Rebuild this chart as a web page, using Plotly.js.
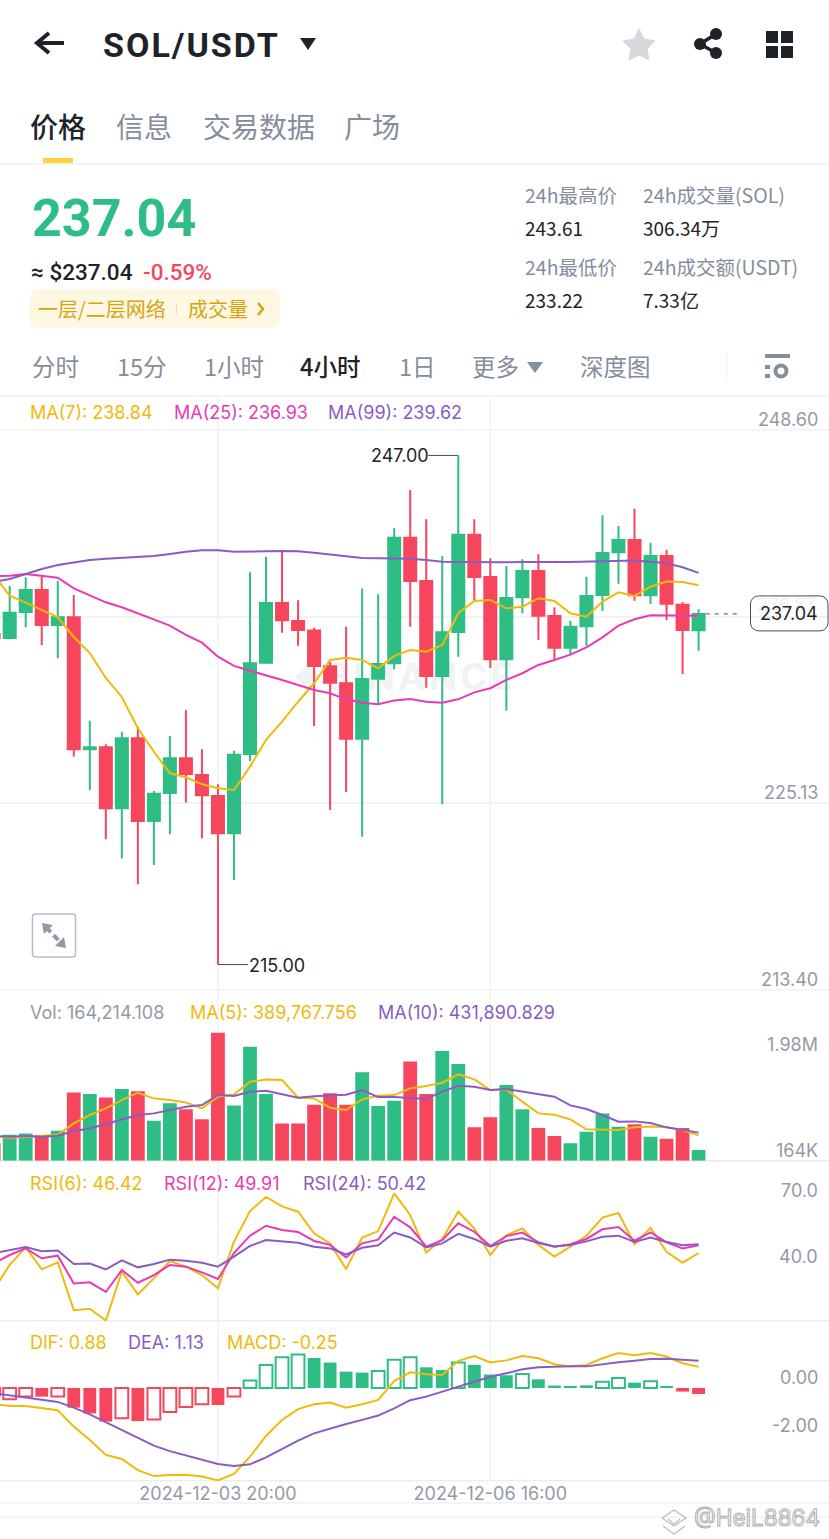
<!DOCTYPE html>
<html>
<head>
<meta charset="utf-8">
<script src="https://cdn.plot.ly/plotly-3.0.1.min.js"></script>
<style>
html,body{margin:0;padding:0;background:#fff;width:829px;height:1539px;overflow:hidden}
#wrap{position:relative;width:829px;height:1539px;overflow:hidden}
#chart{position:absolute;left:0;top:0;width:829px;height:1539px;z-index:2}
.t{position:absolute;white-space:nowrap;line-height:1;font-family:"Noto Sans CJK SC","Noto Sans",sans-serif;z-index:3;transform:translateY(-50%)}
.r{font-family:Roboto,"Noto Sans CJK SC",sans-serif}
.g{color:#848E9C}.d{color:#1E2329}
.sep{position:absolute;left:0;width:829px;height:2px;background:#F3F4F6;z-index:1}
svg.i{position:absolute;z-index:3;overflow:visible}
#wm{position:absolute;left:326px;top:656px;font:700 37px Inter,sans-serif;letter-spacing:3px;color:#F1F2F4;z-index:1;line-height:42px}
#wml{position:absolute;left:0;top:0;z-index:1}
#sig{position:absolute;left:694px;top:1504px;font:400 22.5px Inter,sans-serif;color:#fff;-webkit-text-stroke:1px #A9ADB3;z-index:4;line-height:28px}
</style>
</head>
<body>
<div id="wrap">
<div class="sep" style="top:163px"></div>
<div class="sep" style="top:395px"></div>
<svg id="wml" width="400" height="720"><path d="M308 664l13 13-13 13-13-13z" fill="#F1F2F4"/></svg>
<div id="wm">BINANCE</div>

<svg class="i" style="left:0;top:0" width="829" height="400">
  <path d="M64 43H38M49 33L37 43L49 53" fill="none" stroke="#1E2329" stroke-width="4"/>
  <path d="M300 38H316L308 50Z" fill="#1E2329"/>
  <path d="M639 29l5 10 11 2-8 8 2 11-10-5-10 5 2-11-8-8 11-2z" fill="#D5D8DC" stroke="#D5D8DC" stroke-linejoin="round"/>
  <g fill="#1E2329"><circle cx="716" cy="34" r="6"/><circle cx="716" cy="53" r="6"/><circle cx="700" cy="44" r="6"/></g>
  <path d="M716 34L700 44L716 53" fill="none" stroke="#1E2329" stroke-width="3.5"/>
  <g fill="#1E2329"><rect x="766" y="31" width="12" height="12"/><rect x="781" y="31" width="12" height="12"/><rect x="766" y="46" width="12" height="12"/><rect x="781" y="46" width="12" height="12"/></g>
  <rect x="43" y="158" width="30" height="5" fill="#FCD535"/>
  <rect x="30" y="289" width="250" height="39" rx="8" fill="#FEF8E3"/>
  <rect x="176" y="303" width="1" height="11" fill="#EADFB8"/>
  <path d="M258 303l5 6-5 6" fill="none" stroke="#D9A310" stroke-width="2.5"/>
  <path d="M527 362H543L535 373Z" fill="#848E9C"/>
  <rect x="726" y="352" width="1" height="30" fill="#F0F1F3"/>
  <g fill="#848E9C"><rect x="765" y="354" width="25" height="4"/><rect x="765" y="365" width="5" height="4"/><rect x="765" y="374" width="5" height="4"/></g>
  <circle cx="781" cy="371" r="5.5" fill="none" stroke="#848E9C" stroke-width="4"/>
</svg>

<div class="t r d" style="left:103px;top:45px;font-size:34px;font-weight:700;letter-spacing:2px">SOL/USDT</div>
<div class="t d" style="left:30px;top:126px;font-size:28px;font-weight:500">价格</div>
<div class="t g" style="left:116px;top:126px;font-size:28px">信息</div>
<div class="t g" style="left:203px;top:126px;font-size:28px">交易数据</div>
<div class="t g" style="left:344px;top:126px;font-size:28px">广场</div>

<div class="t r" style="left:32px;top:219px;font-size:52px;font-weight:700;color:#2EBD85">237.04</div>
<div class="t r d" style="left:31px;top:272px;font-size:22.5px;font-weight:500">≈ $237.04</div>
<div class="t r" style="left:143px;top:272px;font-size:22.5px;font-weight:500;color:#F6465D">-0.59%</div>
<div class="t" style="left:38px;top:309px;font-size:20px;color:#D9A310">一层/二层网络</div>
<div class="t" style="left:188px;top:309px;font-size:20px;color:#D9A310">成交量</div>

<div class="t g" style="left:525px;top:195px;font-size:19.5px">24h最高价</div>
<div class="t d" style="left:525px;top:227px;font-size:19px">243.61</div>
<div class="t g" style="left:643px;top:195px;font-size:19.5px">24h成交量(SOL)</div>
<div class="t d" style="left:643px;top:227px;font-size:19px">306.34万</div>
<div class="t g" style="left:525px;top:267px;font-size:19.5px">24h最低价</div>
<div class="t d" style="left:525px;top:299px;font-size:19px">233.22</div>
<div class="t g" style="left:643px;top:267px;font-size:19.5px">24h成交额(USDT)</div>
<div class="t d" style="left:643px;top:299px;font-size:19px">7.33亿</div>

<div class="t g" style="left:32px;top:367px;font-size:23.5px">分时</div>
<div class="t g" style="left:117px;top:367px;font-size:23.5px">15分</div>
<div class="t g" style="left:204px;top:367px;font-size:23.5px">1小时</div>
<div class="t d" style="left:300px;top:367px;font-size:23.5px;font-weight:500">4小时</div>
<div class="t g" style="left:399px;top:367px;font-size:23.5px">1日</div>
<div class="t g" style="left:472px;top:367px;font-size:23.5px">更多</div>
<div class="t g" style="left:580px;top:367px;font-size:23.5px">深度图</div>

<div id="chart"></div>

<svg class="i" style="left:0;top:0" width="829" height="1539">
  <rect x="32.5" y="914" width="43" height="43" rx="3" fill="#fff" stroke="#B7BDC6" stroke-width="1.5"/>
  <g fill="#929AA5">
    <path d="M42 923l11 2-9 9z"/><path d="M66 948l-11-2 9-9z"/>
  </g>
  <path d="M46 927L62 944" stroke="#929AA5" stroke-width="4" stroke-dasharray="7 4"/>
  <g fill="none" stroke="#B9BCC1" stroke-width="1.2">
    <path d="M674 1510l-12 8 12 8 12-8z"/><path d="M668 1519l6 5 6-5"/><path d="M663 1526l11 8 11-8"/>
  </g>
</svg>
<div id="sig">@HeiL8864</div>
</div>

<script>
// ---- price series (oldest to newest) ----
const opens=[235.78,235.53,237.16,238.54,236.34,236.83,228.53,228.66,224.82,229.22,224.03,225.79,227.97,226.92,225.60,223.25,228.24,233.97,237.73,236.60,235.99,233.75,232.68,229.20,232.97,233.94,241.83,239.11,233.14,235.90,242.02,239.36,234.19,238.09,239.74,236.91,234.92,236.26,238.23,240.91,241.69,238.21,240.68,237.62,236.01];
const highs=[235.9,238.80,239.34,239.38,239.11,238.23,230.33,228.85,229.64,229.95,225.91,229.37,231.00,228.53,226.33,228.44,239.66,240.64,240.95,237.90,236.17,234.04,236.24,238.63,238.27,242.42,244.83,242.99,240.68,247.00,242.99,240.54,240.05,240.47,240.79,237.46,236.61,239.38,243.24,242.57,243.65,241.52,241.08,237.79,237.33];
const lows=[235.4,235.45,236.20,235.09,234.25,228.07,225.97,222.88,221.66,220.05,221.26,223.19,225.18,222.94,215.00,220.32,227.80,233.97,235.86,235.04,230.00,224.72,225.85,223.04,231.44,233.56,236.24,232.40,225.08,234.35,237.81,233.64,230.96,237.08,235.40,234.19,234.46,235.04,237.22,238.94,237.87,237.66,236.66,233.26,234.73];
const closes=[235.53,237.12,238.54,236.34,236.83,228.53,228.66,224.82,229.22,224.03,225.74,227.97,226.98,225.64,223.25,228.19,233.94,237.73,236.64,236.03,233.77,232.72,229.20,232.95,233.89,241.83,239.11,233.14,235.89,242.02,239.36,234.19,238.04,239.74,236.93,234.92,236.24,238.17,240.87,241.69,238.21,240.68,237.68,236.03,237.04];
const ma7=[239.49,238.19,237.75,237.29,236.83,235.59,234.58,233.01,231.82,229.85,228.38,227.02,226.77,226.33,226.08,225.97,227.44,229.12,230.27,231.52,232.68,234.14,234.29,234.14,233.62,234.40,234.77,234.67,235.09,237.08,237.85,237.92,237.39,237.49,238.02,237.85,237.08,236.87,237.81,238.40,238.17,238.75,239.07,239.05,238.84];
const ma25=[239.42,239.44,239.55,239.42,239.32,238.65,238.23,237.77,237.46,237.08,236.72,236.30,235.72,235.23,234.35,233.77,233.47,233.20,232.89,232.57,232.26,232.05,231.67,231.46,231.36,231.59,231.69,231.52,231.46,231.67,232.11,232.37,232.89,233.31,233.83,234.14,234.48,234.94,235.57,236.30,236.70,236.95,236.95,236.91,236.93];
const ma99=[239.05,239.24,239.55,239.86,240.12,240.29,240.43,240.51,240.57,240.62,240.68,240.81,240.95,241.04,241.04,240.95,240.95,240.98,241.00,240.98,240.89,240.79,240.66,240.56,240.54,240.54,240.51,240.43,240.32,240.30,240.29,240.26,240.29,240.30,240.32,240.30,240.30,240.32,240.37,240.39,240.39,240.32,240.22,239.97,239.62];
// ---- volume ----
const volumes=[267000,400000,420000,395000,461000,1051000,1026000,974000,1102000,1067000,615000,882000,790000,636000,1969000,851000,1754000,1026000,574000,574000,861000,1036000,861000,1359000,841000,923000,1528000,1026000,1687000,1487000,513000,667000,1164000,790000,503000,379000,267000,446000,728000,523000,559000,369000,338000,503000,164214];
const volumeUp=[0,1,1,0,1,0,1,0,1,0,1,1,0,0,0,1,1,1,0,0,0,0,0,1,1,1,0,0,1,1,0,0,1,1,0,0,1,1,1,1,0,1,0,0,1];
const volMa5=[369000,354000,364000,385000,400000,574000,703000,805000,933000,1046000,959000,933000,897000,805000,985000,1020000,1215000,1251000,1241000,969000,959000,815000,779000,944000,1000000,1010000,1113000,1149000,1200000,1328000,1251000,1087000,1097000,908000,728000,708000,636000,482000,472000,472000,513000,528000,513000,472000,389768];
const volMa10=[379000,369000,379000,369000,385000,456000,497000,564000,641000,703000,728000,779000,831000,856000,1010000,995000,1062000,1077000,1026000,969000,990000,1005000,1015000,1087000,979000,979000,964000,949000,1062000,1154000,1138000,1087000,1102000,1062000,1026000,985000,851000,795000,703000,600000,605000,579000,513000,467000,431891];
// ---- RSI ----
const rsi6=[29.6,41.0,49.0,39.0,42.2,20.4,21.1,15.7,37.9,27.6,34.9,42.8,40.2,36.4,30.4,51.6,65.5,71.9,67.6,65.2,55.4,50.8,39.1,53.4,56.4,73.5,63.7,46.6,52.8,65.2,57.6,45.5,54.6,57.6,50.1,44.8,49.3,54.3,62.5,64.6,50.4,57.9,47.0,42.0,46.42];
const rsi12=[41.7,45.5,48.5,44.0,45.2,32.6,33.1,28.7,38.7,32.9,36.4,41.0,40.2,37.6,34.6,46.4,54.3,58.8,56.9,56.0,51.9,50.1,44.4,50.8,52.5,62.9,58.1,49.3,52.3,59.9,56.1,49.6,54.1,55.7,51.3,49.3,50.4,52.8,57.2,58.2,52.0,55.8,51.3,48.5,49.91];
const rsi24=[46.3,47.8,49.1,47.2,47.6,41.4,41.6,39.0,43.1,39.9,41.4,43.4,42.9,42.0,40.2,44.8,49.6,52.3,51.6,51.1,49.3,48.5,45.8,48.8,49.9,55.7,53.5,49.0,50.8,55.1,52.8,49.3,52.0,53.1,51.0,49.4,50.1,51.7,53.8,54.3,51.4,53.4,51.4,49.9,50.42];
// ---- MACD ----
const dif=[-0.67,-0.75,-0.75,-0.85,-0.93,-1.61,-2.17,-2.79,-2.96,-3.42,-3.67,-3.63,-3.61,-3.69,-3.85,-3.58,-2.86,-2.00,-1.33,-0.88,-0.68,-0.61,-0.82,-0.68,-0.50,0.29,0.65,0.57,0.54,1.13,1.33,1.06,1.15,1.33,1.24,0.99,0.90,0.96,1.24,1.46,1.36,1.46,1.31,1.03,0.88];
const dea=[-0.22,-0.32,-0.40,-0.49,-0.58,-0.82,-1.10,-1.43,-1.75,-2.10,-2.40,-2.63,-2.81,-2.97,-3.17,-3.25,-3.18,-2.89,-2.54,-2.19,-1.89,-1.68,-1.50,-1.33,-1.15,-0.85,-0.51,-0.36,-0.15,0.08,0.29,0.47,0.61,0.78,0.86,0.89,0.90,0.90,1.00,1.07,1.13,1.21,1.22,1.18,1.13];
const macd=[-0.30,-0.47,-0.36,-0.36,-0.36,-0.82,-1.06,-1.40,-1.26,-1.38,-1.31,-1.00,-0.79,-0.68,-0.71,-0.36,0.31,0.96,1.28,1.39,1.25,1.06,0.68,0.64,0.71,1.18,1.28,0.86,0.75,1.06,0.96,0.56,0.53,0.58,0.36,0.10,0.07,0.11,0.26,0.42,0.22,0.28,0.07,-0.15,-0.25];
const macdHollow=[1,1,1,0,1,0,0,0,1,0,1,1,1,1,0,1,1,1,1,1,0,0,0,0,1,1,1,0,0,1,0,0,0,1,0,0,0,0,1,1,0,1,0,0,0];
// ---- axis labels ----
const priceTicks=[248.60,236.87,225.13,213.40];
const rsiTicks=[70,40];
const macdTicks=[0,-2];
const timeTickIndex=[13,30];
const timeTickLabels=['2024-12-03 20:00','2024-12-06 16:00'];

const GOLD='#F0B90B',PINK='#E83AB5',PURPLE='#8A5CC2',GREEN='#2EBD85',RED='#F6465D',GRID='#F1F2F4',GREY='#929AA5',DARK='#1E2329';
const FONT='Inter, Roboto, sans-serif';
const idx=closes.map((_,i)=>i-1);
const W=829,H=1539;
const px=v=>v/W, py=v=>1-v/H;
const dom=(top,bot)=>[py(bot),py(top)];
const line=(y,name,color,ax,w)=>({type:'scatter',mode:'lines',x:idx,y,name,xaxis:'x',yaxis:ax,line:{color,width:w||2,shape:'linear'},hoverinfo:'skip'});

const traces=[
 {type:'candlestick',x:idx,open:opens,high:highs,low:lows,close:closes,xaxis:'x',yaxis:'y',whiskerwidth:0,
  increasing:{line:{color:GREEN,width:2},fillcolor:GREEN},decreasing:{line:{color:RED,width:2},fillcolor:RED},hoverinfo:'skip'},
 line(ma7,'MA(7)',GOLD,'y'),line(ma25,'MA(25)',PINK,'y'),line(ma99,'MA(99)',PURPLE,'y'),
 {type:'bar',x:idx,y:volumes,xaxis:'x',yaxis:'y2',width:0.86,marker:{color:volumeUp.map(u=>u?GREEN:RED),line:{width:0}},hoverinfo:'skip'},
 line(volMa5,'MA(5)',GOLD,'y2'),line(volMa10,'MA(10)',PURPLE,'y2'),
 line(rsi6,'RSI(6)',GOLD,'y3'),line(rsi12,'RSI(12)',PINK,'y3'),line(rsi24,'RSI(24)',PURPLE,'y3'),
 {type:'bar',x:idx,y:macd,xaxis:'x',yaxis:'y4',width:0.8,
  marker:{color:macd.map((v,i)=>macdHollow[i]?'#FFFFFF':(v>=0?GREEN:RED)),
          line:{color:macd.map(v=>v>=0?GREEN:RED),width:macdHollow.map(h=>h?2:0.01)}},hoverinfo:'skip'},
 line(dif,'DIF',GOLD,'y4'),line(dea,'DEA',PURPLE,'y4')
];

const tickFont={family:FONT,size:18,color:GREY};
const yBase={side:'right',anchor:'x',fixedrange:true,zeroline:false,showline:false,ticks:'',showticklabels:false};
const legend=(x,y,text,color)=>({xref:'paper',yref:'paper',x:px(x-1),y:py(y),xanchor:'left',yanchor:'middle',text,showarrow:false,font:{family:FONT,size:18,color},borderpad:0});
// axis value labels sit just above the level they name, right-aligned near the chart edge
const axisLabel=(yref,y,text,shift)=>({xref:'paper',yref,x:px(819),y,yshift:shift,xanchor:'right',yanchor:'middle',text,showarrow:false,font:tickFont,borderpad:0});

const hiI=highs.indexOf(Math.max(...highs)), loI=lows.indexOf(Math.min(...lows));
const last=closes.length-1;
const hline=(y,c)=>({type:'line',xref:'paper',yref:'paper',x0:0,x1:1,y0:py(y),y1:py(y),line:{color:c||GRID,width:1.5},layer:'below'});

const layout={
 width:W,height:H,margin:{l:0,r:0,t:0,b:0},paper_bgcolor:'rgba(0,0,0,0)',plot_bgcolor:'rgba(0,0,0,0)',
 showlegend:false,hovermode:false,boxmode:'overlay',boxgap:0.25,boxgroupgap:0,bargap:0.1,barmode:'overlay',
 font:{family:FONT},
 xaxis:{domain:[0,1],range:[-0.605,51.14],fixedrange:true,anchor:'y4',showgrid:false,zeroline:false,showline:false,ticks:'',
        tickmode:'array',tickvals:timeTickIndex,ticktext:timeTickLabels,tickfont:tickFont,rangeslider:{visible:false}},
 yaxis:Object.assign({},yBase,{domain:dom(430,990),range:[213.40,248.60],tickmode:'array',tickvals:priceTicks,showgrid:true,gridcolor:GRID,gridwidth:1.5}),
 yaxis2:Object.assign({},yBase,{domain:dom(1032,1160.7),range:[0,1980000],showgrid:false}),
 yaxis3:Object.assign({},yBase,{domain:dom(1161,1321),range:[15.51,88.24],showgrid:false}),
 yaxis4:Object.assign({},yBase,{domain:dom(1321,1481),range:[-3.875,2.79],showgrid:false}),
 shapes:[
  ...timeTickIndex.map(t=>({type:'line',xref:'x',yref:'paper',x0:t,x1:t,y0:py(396),y1:py(1481),line:{color:GRID,width:1.5},layer:'below'})),
  hline(430),hline(990),
  hline(1160.7,'#E9EAF0'),hline(1320.7,'#ECEDF1'),hline(1480.7,'#ECEDF1'),hline(1503),hline(1517),
  {type:'line',xsizemode:'pixel',xanchor:hiI-1,xref:'x',yref:'y',x0:-30,x1:0,y0:highs[hiI],y1:highs[hiI],line:{color:'#474D57',width:1}},
  {type:'line',xsizemode:'pixel',xanchor:loI-1,xref:'x',yref:'y',x0:0,x1:30,y0:lows[loI],y1:lows[loI],line:{color:'#474D57',width:1}},
  {type:'line',xref:'x',yref:'y',x0:last-1+0.45,x1:45.7,y0:closes[last],y1:closes[last],line:{color:'#474D57',width:1,dash:'4px,5px'}}
 ],
 annotations:[
  legend(30,412,'MA(7): 238.84',GOLD),legend(174,412,'MA(25): 236.93',PINK),legend(328,412,'MA(99): 239.62',PURPLE),
  legend(30,1012,'Vol: 164,214.108',GREY),legend(190,1012,'MA(5): 389,767.756',GOLD),legend(378,1012,'MA(10): 431,890.829',PURPLE),
  legend(30,1183,'RSI(6): 46.42',GOLD),legend(164,1183,'RSI(12): 49.91',PINK),legend(303,1183,'RSI(24): 50.42',PURPLE),
  legend(30,1342,'DIF: 0.88',GOLD),legend(128,1342,'DEA: 1.13',PURPLE),legend(227,1342,'MACD: -0.25',GOLD),
  ...priceTicks.filter(v=>v!==236.87).map(v=>axisLabel('y',v,v.toFixed(2),11)),
  ...rsiTicks.map(v=>axisLabel('y3',v,v.toFixed(1),11)),
  ...macdTicks.map(v=>axisLabel('y4',v,v.toFixed(2),10)),
  axisLabel('y2',1980000,'1.98M',-12),
  axisLabel('y2',164214,'164K',0),
  {xref:'x',yref:'y',x:hiI-1,y:highs[hiI],xshift:-27,xanchor:'right',yanchor:'middle',text:highs[hiI].toFixed(2),showarrow:false,font:{family:FONT,size:18,color:DARK}},
  {xref:'x',yref:'y',x:loI-1,y:lows[loI],xshift:29,yshift:-1,xanchor:'left',yanchor:'middle',text:lows[loI].toFixed(2),showarrow:false,font:{family:FONT,size:18,color:DARK}},
  {xref:'paper',yref:'paper',x:px(818),y:py(605),xanchor:'right',yanchor:'middle',text:'236.87',showarrow:false,font:{family:FONT,size:18,color:'#EEF0F2'}},
  {xref:'paper',yref:'y',x:px(789),y:closes[last],xanchor:'center',yanchor:'middle',text:closes[last].toFixed(2),showarrow:false,font:{family:FONT,size:18,color:DARK}}
 ]
};
Plotly.newPlot('chart',traces,layout,{displayModeBar:false,responsive:false}).then(()=>{
  // rounded price tag around the last close
  const ya=document.getElementById('chart')._fullLayout.yaxis;
  const yp=ya._offset+ya.d2p(closes[last]);
  const tag=document.createElementNS('http://www.w3.org/2000/svg','svg');
  tag.setAttribute('class','i');tag.setAttribute('width',W);tag.setAttribute('height',H);tag.setAttribute('style','left:0;top:0;z-index:3');
  tag.innerHTML=`<rect x="750.5" y="${yp-18}" width="77.5" height="35" rx="8" fill="none" stroke="#474D57" stroke-width="1"/>`;
  document.getElementById('wrap').appendChild(tag);
});
</script>
</body>
</html>
